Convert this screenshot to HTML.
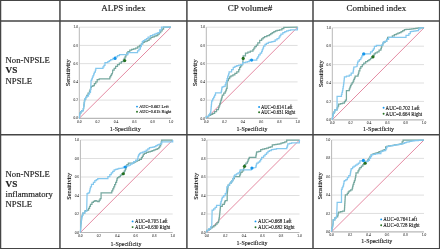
<!DOCTYPE html>
<html><head><meta charset="utf-8"><style>
html,body{margin:0;padding:0;background:#fff;width:440px;height:249px;overflow:hidden}
svg{display:block;will-change:transform}
text{font-family:"Liberation Serif",serif;fill:#222}
.hd{font-size:9px;stroke:#222;stroke-width:0.18px}
.rl{font-size:9.2px;stroke:#222;stroke-width:0.18px}
.b{font-weight:bold}
.tk{font-size:3.5px;fill:#333;stroke:#333;stroke-width:0.05px}
.at{font-size:6.8px;fill:#111;stroke:#111;stroke-width:0.12px}
.at2{font-size:6.8px;fill:#111;stroke:#111;stroke-width:0.12px}
.lg{fill:#111;stroke:#111;stroke-width:0.12px}
</style></head><body>
<svg width="440" height="249" viewBox="0 0 440 249">
<line x1="79.3" y1="100.08" x2="171" y2="100.08" stroke="#dfdfdf" stroke-width="1"/>
<line x1="79.3" y1="81.86" x2="171" y2="81.86" stroke="#dfdfdf" stroke-width="1"/>
<line x1="79.3" y1="63.64" x2="171" y2="63.64" stroke="#dfdfdf" stroke-width="1"/>
<line x1="79.3" y1="45.42" x2="171" y2="45.42" stroke="#dfdfdf" stroke-width="1"/>
<line x1="79.3" y1="27.2" x2="171" y2="27.2" stroke="#dfdfdf" stroke-width="1"/>
<line x1="79.3" y1="27.2" x2="79.3" y2="118.3" stroke="#b8b8b8" stroke-width="1"/>
<line x1="79.3" y1="118.3" x2="171" y2="118.3" stroke="#b8b8b8" stroke-width="1.2"/>
<line x1="79.3" y1="118.3" x2="171" y2="27.2" stroke="#e48aa2" stroke-width="1"/>
<polyline points="79.3,118.3 79.85,114.47 79.85,113.02 80.81,113.02 80.81,111.56 81.78,111.56 81.78,110.56 83.33,110.56 83.33,108.64 83.61,108.64 83.61,106.73 83.88,106.73 83.88,104.82 84.16,104.82 84.16,102.9 84.44,102.9 84.44,100.99 84.71,100.99 84.71,99.17 85.67,99.17 85.67,97.35 86.64,97.35 86.64,95.25 88.06,95.25 88.06,93.16 89.48,93.16 89.48,91.21 90.12,91.21 90.12,89.27 90.76,89.27 90.76,87.33 91.4,87.33 91.4,86.41 92.87,86.41 92.87,85.5 94.34,85.5 94.34,83.68 95.76,83.68 95.76,81.86 97.18,81.86 97.18,79.67 99.2,79.67 99.2,78.76 100.12,78.76 109.84,78.76 109.84,76.85 110.75,76.85 110.75,75.39 111.53,75.39 111.53,73.93 112.31,73.93 112.68,72.02 112.68,70.2 114.15,70.2 114.15,68.38 115.61,68.38 115.61,66.46 117.49,66.46 117.49,64.55 119.37,64.55 119.37,63.09 121.34,63.09 121.34,61.64 123.32,61.64 123.32,60.03 124.17,60.03 124.17,58.42 125.03,58.42 125.03,56.81 125.88,56.81 125.88,54.89 126.89,54.89 126.89,52.98 127.9,52.98 127.9,51.52 129.78,51.52 129.78,50.07 131.66,50.07 131.66,49.43 133.62,49.43 133.62,48.79 135.57,48.79 135.57,48.15 137.53,48.15 137.53,46.79 139.46,46.79 139.46,45.42 141.38,45.42 141.38,43.87 142.85,43.87 142.85,42.32 144.32,42.32 144.32,41.68 145.9,41.68 145.9,41.05 147.49,41.05 147.49,40.41 149.08,40.41 149.08,38.95 150.87,38.95 150.87,37.49 152.66,37.49 152.66,36.86 154.37,36.86 154.37,36.22 156.08,36.22 156.08,35.58 157.8,35.58 157.8,34.12 159.26,34.12 159.26,32.67 160.73,32.67 160.73,30.84 162.15,30.84 162.15,29.02 163.57,29.02 163.57,27.2 165.5,27.2 171,27.2" fill="none" stroke="#76a89f" stroke-width="1.25"/>
<polyline points="79.3,118.3 79.85,114.47 79.85,113.02 80.81,113.02 80.81,111.56 81.78,111.56 81.78,110.56 83.33,110.56 83.33,108.64 83.61,108.64 83.61,106.73 83.88,106.73 83.88,104.82 84.16,104.82 84.16,102.9 84.44,102.9 84.44,100.99 84.71,100.99 84.71,99.17 85.67,99.17 85.67,97.35 86.64,97.35 86.64,96.07 88.47,96.07 88.47,94.2 89.48,94.2 89.48,92.34 90.49,92.34 91.04,81.86 91.04,80.31 91.73,80.31 91.73,78.76 92.41,78.76 92.41,77.15 93.05,77.15 93.05,75.54 93.7,75.54 93.7,73.93 94.34,73.93 94.34,72.02 95.35,72.02 95.35,70.2 95.81,70.2 95.81,68.38 96.26,68.38 102.96,68.38 102.96,66.92 103.97,66.92 103.97,65.46 104.98,65.46 104.98,62.64 107.82,62.64 107.82,61.68 109.29,61.68 109.29,60.72 110.75,60.72 110.75,59.59 112.91,59.59 112.91,58.45 115.06,58.45 115.06,56.81 117.54,56.81 117.54,55.67 119.46,55.67 119.46,54.53 121.39,54.53 127.9,54.53 127.9,52.71 128.82,52.71 137.53,52.71 137.53,50.89 138.95,50.89 138.95,49.06 140.37,49.06 140.37,46.7 141.34,46.7 141.34,44.33 142.3,44.33 142.3,41.5 143.31,41.5 143.31,40.5 144.9,40.5 144.9,39.5 146.49,39.5 146.49,38.5 148.07,38.5 148.07,37.04 150.37,37.04 150.37,35.58 152.66,35.58 152.66,34.85 154.43,34.85 154.43,34.12 156.19,34.12 156.19,33.39 157.96,33.39 157.96,32.67 159.72,32.67 159.72,29.93 161.55,29.93 161.55,27.2 162.56,27.2 171,27.2" fill="none" stroke="#84c8ee" stroke-width="1.25"/>
<circle cx="115.06" cy="58.45" r="1.6" fill="#1596ec"/>
<circle cx="124.69" cy="60.54" r="1.6" fill="#23701f"/>
<text x="75.8" y="119.4" class="tk" text-anchor="middle">0.0</text>
<text x="79.3" y="122.9" class="tk" text-anchor="middle">0.0</text>
<text x="75.8" y="101.18" class="tk" text-anchor="middle">0.2</text>
<text x="97.64" y="122.9" class="tk" text-anchor="middle">0.2</text>
<text x="75.8" y="82.96" class="tk" text-anchor="middle">0.4</text>
<text x="115.98" y="122.9" class="tk" text-anchor="middle">0.4</text>
<text x="75.8" y="64.74" class="tk" text-anchor="middle">0.6</text>
<text x="134.32" y="122.9" class="tk" text-anchor="middle">0.6</text>
<text x="75.8" y="46.52" class="tk" text-anchor="middle">0.8</text>
<text x="152.66" y="122.9" class="tk" text-anchor="middle">0.8</text>
<text x="75.8" y="28.3" class="tk" text-anchor="middle">1.0</text>
<text x="171" y="122.9" class="tk" text-anchor="middle">1.0</text>
<text x="109.65" y="130.8" class="at" textLength="31" lengthAdjust="spacingAndGlyphs">1-Specificity</text>
<text transform="translate(69.9,72.75) rotate(-90)" y="0" class="at2" x="-13.5" textLength="27" lengthAdjust="spacingAndGlyphs">Sensitivity</text>
<circle cx="137" cy="106.6" r="0.95" fill="#1596ec"/>
<text x="139.2" y="108.18" class="lg" style="font-size:4.79px" textLength="29.4" lengthAdjust="spacingAndGlyphs">AUC=0.662 Left</text>
<circle cx="137" cy="111.8" r="0.95" fill="#23701f"/>
<text x="139.2" y="113.38" class="lg" style="font-size:4.79px" textLength="32" lengthAdjust="spacingAndGlyphs">AUC=0.615 Right</text>
<line x1="206.3" y1="100.16" x2="297.6" y2="100.16" stroke="#dfdfdf" stroke-width="1"/>
<line x1="206.3" y1="81.92" x2="297.6" y2="81.92" stroke="#dfdfdf" stroke-width="1"/>
<line x1="206.3" y1="63.68" x2="297.6" y2="63.68" stroke="#dfdfdf" stroke-width="1"/>
<line x1="206.3" y1="45.44" x2="297.6" y2="45.44" stroke="#dfdfdf" stroke-width="1"/>
<line x1="206.3" y1="27.2" x2="297.6" y2="27.2" stroke="#dfdfdf" stroke-width="1"/>
<line x1="206.3" y1="27.2" x2="206.3" y2="118.4" stroke="#b8b8b8" stroke-width="1"/>
<line x1="206.3" y1="118.4" x2="297.6" y2="118.4" stroke="#b8b8b8" stroke-width="1.2"/>
<line x1="206.3" y1="118.4" x2="297.6" y2="27.2" stroke="#e48aa2" stroke-width="1"/>
<polyline points="206.3,118.4 206.3,116.9 208.49,116.9 208.49,115.39 210.68,115.39 210.68,114.43 212.65,114.43 212.65,113.48 214.61,113.48 214.61,111.56 216.53,111.56 216.53,109.64 218.44,109.64 218.44,107.73 219.08,107.73 219.08,105.81 219.72,105.81 219.72,103.9 220.36,103.9 220.36,102.19 220.84,102.19 220.84,100.48 221.32,100.48 221.32,98.77 221.8,98.77 221.8,97.06 222.28,97.06 222.28,95.14 223.74,95.14 223.74,93.23 225.2,93.23 225.2,91.62 225.84,91.62 225.84,90.01 226.48,90.01 226.48,88.4 227.12,88.4 227.12,82.56 227.12,80.64 228.39,80.64 228.39,78.73 229.67,78.73 229.67,76.81 230.95,76.81 230.95,75.86 232.91,75.86 232.91,74.9 234.88,74.9 234.88,73.44 236.79,73.44 236.79,71.98 238.71,71.98 238.71,69.7 239.67,69.7 239.67,67.42 240.63,67.42 240.63,65.96 241.63,65.96 241.63,64.5 242.64,64.5 243.19,58.39 243.19,55.84 245.47,55.84 245.47,53.01 247.84,53.01 247.84,52.01 250.31,52.01 250.31,51 252.95,51 252.95,49.54 253.91,49.54 253.91,48.08 254.87,48.08 254.87,46.63 256.33,46.63 256.33,45.17 257.79,45.17 257.79,42.8 259.71,42.8 259.71,40.42 261.63,40.42 261.63,38.96 263.09,38.96 263.09,37.51 264.55,37.51 264.55,36.55 266.92,36.55 266.92,35.59 269.3,35.59 269.3,34.63 270.76,34.63 270.76,33.68 272.22,33.68 272.22,32.7 273.86,32.7 273.86,31.73 275.51,31.73 275.51,30.76 277.15,30.76 277.15,30.3 279.52,30.3 279.52,29.84 281.9,29.84 281.9,28.66 283.81,28.66 283.81,27.47 285.73,27.47 297.6,27.2" fill="none" stroke="#76a89f" stroke-width="1.25"/>
<polyline points="206.3,118.4 206.3,116.39 208.77,116.39 208.77,114.93 209.72,114.93 209.72,113.48 210.68,113.48 210.68,111.71 210.85,111.71 210.85,109.95 211.02,109.95 211.02,108.19 211.18,108.19 211.18,106.42 211.35,106.42 211.35,104.66 211.52,104.66 211.52,102.9 211.69,102.9 211.69,100.94 212.65,100.94 212.65,98.97 213.6,98.97 213.6,97.1 214.56,97.1 214.56,95.24 215.52,95.24 215.52,92.86 216.53,92.86 221.27,92.86 221.27,91.04 221.61,91.04 221.61,89.22 221.94,89.22 221.94,87.39 222.28,87.39 222.28,86.94 223.74,86.94 223.74,86.48 225.2,86.48 225.2,84.52 225.88,84.52 225.88,82.56 226.57,82.56 226.57,80.64 227.09,80.64 227.09,78.73 227.6,78.73 227.6,76.81 228.12,76.81 228.12,75.35 228.62,75.35 228.62,73.89 229.12,73.89 229.12,71.98 231.59,71.98 231.59,69.7 233.23,69.7 233.23,67.42 234.88,67.42 234.88,66.46 236.79,66.46 236.79,65.5 238.71,65.5 238.71,65 240.67,65 240.67,64.5 242.64,64.5 242.64,62.59 245.47,62.59 245.47,62.08 247.38,62.08 247.38,61.58 249.3,61.58 249.3,60.12 251.58,60.12 256.79,60.12 256.79,58.48 257.75,58.48 257.75,56.84 258.71,56.84 258.71,54.92 260.17,54.92 260.17,53.01 261.63,53.01 261.63,51.37 262.27,51.37 262.27,49.73 262.91,49.73 262.91,48.08 263.55,48.08 263.55,46.22 264.96,46.22 264.96,44.35 266.38,44.35 266.38,43.34 268.29,43.34 268.29,42.34 270.21,42.34 270.21,42 271.85,42 271.85,41.67 273.5,41.67 273.5,41.34 275.14,41.34 275.14,39.92 277.06,39.92 277.06,38.51 278.97,38.51 278.97,37.05 279.93,37.05 279.93,35.59 280.89,35.59 280.89,34.13 282.86,34.13 282.86,32.67 284.82,32.67 284.82,31.71 286.64,31.71 286.64,30.76 288.47,30.76 288.47,30.3 290.48,30.3 290.48,29.84 292.49,29.84 297.33,29.84 297.6,27.2" fill="none" stroke="#84c8ee" stroke-width="1.25"/>
<circle cx="251.58" cy="60.12" r="1.6" fill="#1596ec"/>
<circle cx="243.19" cy="58.39" r="1.6" fill="#23701f"/>
<text x="202.8" y="119.5" class="tk" text-anchor="middle">0.0</text>
<text x="206.3" y="123" class="tk" text-anchor="middle">0.0</text>
<text x="202.8" y="101.26" class="tk" text-anchor="middle">0.2</text>
<text x="224.56" y="123" class="tk" text-anchor="middle">0.2</text>
<text x="202.8" y="83.02" class="tk" text-anchor="middle">0.4</text>
<text x="242.82" y="123" class="tk" text-anchor="middle">0.4</text>
<text x="202.8" y="64.78" class="tk" text-anchor="middle">0.6</text>
<text x="261.08" y="123" class="tk" text-anchor="middle">0.6</text>
<text x="202.8" y="46.54" class="tk" text-anchor="middle">0.8</text>
<text x="279.34" y="123" class="tk" text-anchor="middle">0.8</text>
<text x="202.8" y="28.3" class="tk" text-anchor="middle">1.0</text>
<text x="297.6" y="123" class="tk" text-anchor="middle">1.0</text>
<text x="236.45" y="130.7" class="at" textLength="31" lengthAdjust="spacingAndGlyphs">1-Specificity</text>
<text transform="translate(196.9,72.8) rotate(-90)" y="0" class="at2" x="-13.5" textLength="27" lengthAdjust="spacingAndGlyphs">Sensitivity</text>
<circle cx="259.1" cy="107" r="0.95" fill="#1596ec"/>
<text x="260.9" y="108.69" class="lg" style="font-size:5.12px" textLength="31.7" lengthAdjust="spacingAndGlyphs">AUC=0.614 Left</text>
<circle cx="259.1" cy="112.3" r="0.95" fill="#23701f"/>
<text x="260.9" y="113.99" class="lg" style="font-size:5.12px" textLength="34.3" lengthAdjust="spacingAndGlyphs">AUC=0.631 Right</text>
<line x1="332.3" y1="101.4" x2="424" y2="101.4" stroke="#dfdfdf" stroke-width="1"/>
<line x1="332.3" y1="83" x2="424" y2="83" stroke="#dfdfdf" stroke-width="1"/>
<line x1="332.3" y1="64.6" x2="424" y2="64.6" stroke="#dfdfdf" stroke-width="1"/>
<line x1="332.3" y1="46.2" x2="424" y2="46.2" stroke="#dfdfdf" stroke-width="1"/>
<line x1="332.3" y1="27.8" x2="424" y2="27.8" stroke="#dfdfdf" stroke-width="1"/>
<line x1="332.3" y1="27.8" x2="332.3" y2="119.8" stroke="#b8b8b8" stroke-width="1"/>
<line x1="332.3" y1="119.8" x2="424" y2="119.8" stroke="#b8b8b8" stroke-width="1.2"/>
<line x1="332.3" y1="119.8" x2="424" y2="27.8" stroke="#e48aa2" stroke-width="1"/>
<polyline points="332.3,119.8 332.3,118.11 332.61,118.11 332.61,116.43 332.91,116.43 332.91,114.74 333.22,114.74 333.22,113.31 334,113.31 334,111.89 334.78,111.89 334.78,109.96 337.07,109.96 337.07,107.98 337.85,107.98 337.85,106 338.63,106 338.63,104.16 340.55,104.16 340.55,103.65 342.48,103.65 342.48,103.15 344.4,103.15 344.4,101.68 345.41,101.68 345.41,100.2 346.42,100.2 346.42,92.48 346.42,90.54 349.26,90.54 349.26,88.89 349.91,88.89 349.91,87.23 350.55,87.23 350.55,85.58 351.19,85.58 351.19,84.15 352.15,84.15 352.15,82.72 353.12,82.72 353.12,81.1 353.79,81.1 353.79,79.47 354.46,79.47 354.46,77.85 355.13,77.85 355.13,76.01 357.98,76.01 357.98,74.54 358.43,74.54 358.43,73.06 358.89,73.06 358.89,70.76 359.86,70.76 359.86,68.46 360.82,68.46 360.82,66.53 362.29,66.53 362.29,64.6 363.75,64.6 363.75,63.13 365.68,63.13 365.68,61.66 367.6,61.66 367.6,60.69 369.07,60.69 369.07,59.72 370.54,59.72 370.54,58.25 371.78,58.25 371.78,56.78 373.01,56.78 373.01,55.35 374.16,55.35 374.16,53.93 375.31,53.93 375.31,52.92 377.19,52.92 377.19,51.9 379.07,51.9 379.07,50.06 380.9,50.06 380.9,48.59 381.36,48.59 381.36,47.12 381.82,47.12 381.82,45.14 382.78,45.14 382.78,43.16 383.74,43.16 383.74,42.24 385.21,42.24 385.21,41.32 386.68,41.32 386.68,39.35 387.64,39.35 387.64,37.37 388.6,37.37 392.36,37.37 392.36,35.94 394.34,35.94 394.34,34.52 396.31,34.52 396.31,33.87 397.9,33.87 397.9,33.23 399.49,33.23 399.49,32.58 401.07,32.58 401.07,31.6 402.73,31.6 402.73,30.62 404.38,30.62 404.38,29.64 406.03,29.64 406.03,29.46 407.93,29.46 407.93,29.27 409.84,29.27 409.84,29.09 411.75,29.09 411.75,28.9 413.66,28.9 413.66,28.72 415.56,28.72 415.56,28.41 417.18,28.41 417.18,28.11 418.8,28.11 418.8,27.8 420.42,27.8 424,27.8" fill="none" stroke="#76a89f" stroke-width="1.25"/>
<polyline points="332.3,119.8 332.3,118.11 332.61,118.11 332.61,116.43 332.91,116.43 332.91,114.74 333.22,114.74 333.22,113.31 334,113.31 334,111.89 334.78,111.89 334.78,109.96 337.07,109.96 337.07,97.26 337.07,96.34 338.26,96.34 341.47,96.34 341.47,94.41 341.97,94.41 341.97,92.48 342.48,92.48 342.48,90.54 342.81,90.54 342.81,88.61 343.15,88.61 343.15,86.68 343.49,86.68 343.49,84.73 343.72,84.73 343.72,82.77 343.95,82.77 343.95,80.81 344.18,80.81 344.18,78.86 344.4,78.86 344.4,76.93 346.42,76.93 346.42,76.01 349.26,76.01 349.26,75 351.19,75 351.19,73.06 353.12,73.06 353.12,71.1 353.45,71.1 353.45,69.14 353.79,69.14 353.79,67.18 354.12,67.18 357.06,66.53 357.06,64.55 357.52,64.55 357.52,62.58 357.98,62.58 357.98,61.15 359.4,61.15 359.4,59.72 360.82,59.72 360.82,57.79 361.8,57.79 361.8,55.86 362.77,55.86 362.77,53.93 363.75,53.93 370.54,53.93 370.54,51.9 372.37,51.9 372.37,50.43 373.38,50.43 373.38,48.96 374.39,48.96 374.39,46.48 376.32,46.48 376.32,45.28 379.07,45.28 382.74,45.19 382.74,43.72 383.24,43.72 383.24,42.24 383.74,42.24 383.74,41.78 385.21,41.78 385.21,41.32 386.68,41.32 386.68,39.39 388.6,39.39 388.6,37.37 389.52,37.37 406.03,37.37 406.03,35.44 408.87,35.44 408.87,33.5 410.29,33.5 410.29,31.57 411.71,31.57 411.71,31.32 413.41,31.32 413.41,31.07 415.11,31.07 415.11,30.81 416.8,30.81 416.8,30.56 418.5,30.56 418.5,29.18 419.97,29.18 419.97,27.8 421.43,27.8 424,27.8" fill="none" stroke="#84c8ee" stroke-width="1.25"/>
<circle cx="363.75" cy="53.93" r="1.6" fill="#1596ec"/>
<circle cx="373.01" cy="56.78" r="1.6" fill="#23701f"/>
<text x="328.8" y="120.9" class="tk" text-anchor="middle">0.0</text>
<text x="332.3" y="124.4" class="tk" text-anchor="middle">0.0</text>
<text x="328.8" y="102.5" class="tk" text-anchor="middle">0.2</text>
<text x="350.64" y="124.4" class="tk" text-anchor="middle">0.2</text>
<text x="328.8" y="84.1" class="tk" text-anchor="middle">0.4</text>
<text x="368.98" y="124.4" class="tk" text-anchor="middle">0.4</text>
<text x="328.8" y="65.7" class="tk" text-anchor="middle">0.6</text>
<text x="387.32" y="124.4" class="tk" text-anchor="middle">0.6</text>
<text x="328.8" y="47.3" class="tk" text-anchor="middle">0.8</text>
<text x="405.66" y="124.4" class="tk" text-anchor="middle">0.8</text>
<text x="328.8" y="28.9" class="tk" text-anchor="middle">1.0</text>
<text x="424" y="124.4" class="tk" text-anchor="middle">1.0</text>
<text x="363.05" y="131.1" class="at" textLength="31" lengthAdjust="spacingAndGlyphs">1-Specificity</text>
<text transform="translate(322.9,73.8) rotate(-90)" y="0" class="at2" x="-13.5" textLength="27" lengthAdjust="spacingAndGlyphs">Sensitivity</text>
<circle cx="383.6" cy="107.7" r="0.95" fill="#1596ec"/>
<text x="385.6" y="109.5" class="lg" style="font-size:5.45px" textLength="34.1" lengthAdjust="spacingAndGlyphs">AUC=0.702 Left</text>
<circle cx="383.6" cy="113.8" r="0.95" fill="#23701f"/>
<text x="385.6" y="115.6" class="lg" style="font-size:5.45px" textLength="36.6" lengthAdjust="spacingAndGlyphs">AUC=0.664 Right</text>
<line x1="80.4" y1="214" x2="172.7" y2="214" stroke="#dfdfdf" stroke-width="1"/>
<line x1="80.4" y1="195.5" x2="172.7" y2="195.5" stroke="#dfdfdf" stroke-width="1"/>
<line x1="80.4" y1="177" x2="172.7" y2="177" stroke="#dfdfdf" stroke-width="1"/>
<line x1="80.4" y1="158.5" x2="172.7" y2="158.5" stroke="#dfdfdf" stroke-width="1"/>
<line x1="80.4" y1="140" x2="172.7" y2="140" stroke="#dfdfdf" stroke-width="1"/>
<line x1="80.4" y1="140" x2="80.4" y2="232.5" stroke="#b8b8b8" stroke-width="1"/>
<line x1="80.4" y1="232.5" x2="172.7" y2="232.5" stroke="#b8b8b8" stroke-width="1.2"/>
<line x1="80.4" y1="232.5" x2="172.7" y2="140" stroke="#e48aa2" stroke-width="1"/>
<polyline points="80.4,232.5 80.86,225.56 80.86,223.64 81.09,223.64 81.09,221.72 81.32,221.72 81.32,219.8 81.55,219.8 81.55,217.88 81.78,217.88 81.78,216.45 82.29,216.45 82.29,215.02 82.8,215.02 82.8,213.07 84.74,213.07 84.74,211.13 85.66,211.13 85.66,210.67 87.14,210.67 87.14,210.21 88.61,210.21 88.61,208.26 89.54,208.26 89.54,206.32 90.46,206.32 90.46,204.38 91.94,204.38 91.94,202.44 93.41,202.44 93.41,201.47 94.84,201.47 94.84,200.5 96.28,200.5 96.28,201 97.75,201 97.75,201.51 99.23,201.51 99.23,200.08 100.15,200.08 100.15,198.65 101.08,198.65 101.08,192.82 111.78,192.82 111.78,190.88 112.75,190.88 112.75,188.93 113.72,188.93 113.72,186.99 114.64,186.99 114.64,184.68 115.61,184.68 115.61,182.37 116.58,182.37 116.58,180.47 117.04,180.47 117.04,178.57 117.5,178.57 117.5,177.6 118.94,177.6 118.94,176.63 120.37,176.63 120.37,175.2 121.84,175.2 121.84,173.76 123.32,173.76 123.32,172.33 124.29,172.33 124.29,170.89 125.26,170.89 125.26,169.26 125.81,169.26 125.81,167.63 126.37,167.63 126.37,165.99 126.92,165.99 126.92,164.56 128.35,164.56 128.35,163.12 129.78,163.12 133.75,163.12 133.75,162.15 135.64,162.15 135.64,161.18 137.53,161.18 137.53,160.26 139.47,160.26 139.47,159.33 141.41,159.33 141.41,157.7 142.36,157.7 142.36,156.06 143.32,156.06 143.32,154.43 144.27,154.43 144.27,153.46 146.26,153.46 146.26,152.49 148.24,152.49 148.24,151.87 150.15,151.87 150.15,151.25 152.06,151.25 152.06,150.64 153.96,150.64 153.96,149.99 155.59,149.99 155.59,149.34 157.22,149.34 157.22,148.69 158.85,148.69 158.85,147.26 159.78,147.26 159.78,145.83 160.7,145.83 160.7,143.88 161.21,143.88 161.21,141.94 161.72,141.94 161.72,140 162.64,140 172.7,140" fill="none" stroke="#76a89f" stroke-width="1.25"/>
<polyline points="80.4,232.5 80.86,225.56 80.86,223.64 81.09,223.64 81.09,221.72 81.32,221.72 81.32,219.8 81.55,219.8 81.55,217.88 81.78,217.88 81.78,216.45 82.29,216.45 82.29,215.02 82.8,215.02 82.8,213.07 84.74,213.07 84.74,211.13 85.66,211.13 86.68,211.13 87.05,194.67 87.05,193.74 88.15,193.74 88.15,192.82 89.54,192.82 89.54,190.88 90,190.88 90,188.93 90.46,188.93 90.46,186.99 91.48,186.99 91.48,184.4 93.41,184.4 93.41,182.46 94.84,182.46 94.84,180.51 96.28,180.51 96.28,179.54 97.75,179.54 97.75,178.57 99.23,178.57 107.91,178.57 107.91,176.63 109.84,176.63 109.84,174.73 111.27,174.73 111.27,172.84 112.7,172.84 112.7,171.36 114.14,171.36 114.14,169.88 115.57,169.88 115.57,169.35 117.17,169.35 117.17,168.83 118.77,168.83 118.77,168.31 120.37,168.31 123.32,167.94 123.32,167.01 125.26,167.01 125.26,166.5 127.06,166.5 127.06,165.99 128.86,165.99 128.86,165.04 130.49,165.04 130.49,164.08 132.12,164.08 132.12,163.12 133.75,163.12 133.75,161.64 135.64,161.64 135.64,160.16 137.53,160.16 137.53,158.27 138.04,158.27 138.04,156.37 138.55,156.37 138.55,154.94 139.47,154.94 139.47,153.5 140.39,153.5 140.39,152.83 142.33,152.83 142.33,152.15 144.27,152.15 144.27,151.47 146.21,151.47 146.21,150.21 147.81,150.21 147.81,148.94 149.41,148.94 149.41,147.68 151.01,147.68 151.01,147.34 152.64,147.34 152.64,147 154.27,147 154.27,146.66 155.9,146.66 155.9,145.74 157.38,145.74 157.38,144.81 158.85,144.81 158.85,144.3 160.29,144.3 160.29,143.79 161.72,143.79 161.72,141.94 162.64,141.94 172.7,141.94 172.7,140" fill="none" stroke="#84c8ee" stroke-width="1.25"/>
<circle cx="125.26" cy="167.01" r="1.6" fill="#1596ec"/>
<circle cx="123.32" cy="173.76" r="1.6" fill="#23701f"/>
<text x="76.9" y="233.6" class="tk" text-anchor="middle">0.0</text>
<text x="80.4" y="237.1" class="tk" text-anchor="middle">0.0</text>
<text x="76.9" y="215.1" class="tk" text-anchor="middle">0.2</text>
<text x="98.86" y="237.1" class="tk" text-anchor="middle">0.2</text>
<text x="76.9" y="196.6" class="tk" text-anchor="middle">0.4</text>
<text x="117.32" y="237.1" class="tk" text-anchor="middle">0.4</text>
<text x="76.9" y="178.1" class="tk" text-anchor="middle">0.6</text>
<text x="135.78" y="237.1" class="tk" text-anchor="middle">0.6</text>
<text x="76.9" y="159.6" class="tk" text-anchor="middle">0.8</text>
<text x="154.24" y="237.1" class="tk" text-anchor="middle">0.8</text>
<text x="76.9" y="141.1" class="tk" text-anchor="middle">1.0</text>
<text x="172.7" y="237.1" class="tk" text-anchor="middle">1.0</text>
<text x="110.45" y="245.7" class="at" textLength="31" lengthAdjust="spacingAndGlyphs">1-Specificity</text>
<text transform="translate(71,186.25) rotate(-90)" y="0" class="at2" x="-13.5" textLength="27" lengthAdjust="spacingAndGlyphs">Sensitivity</text>
<circle cx="132.6" cy="221.4" r="0.95" fill="#1596ec"/>
<text x="135" y="223.16" class="lg" style="font-size:5.33px" textLength="32.7" lengthAdjust="spacingAndGlyphs">AUC=0.705 Left</text>
<circle cx="132.6" cy="227.1" r="0.95" fill="#23701f"/>
<text x="135" y="228.86" class="lg" style="font-size:5.33px" textLength="35.2" lengthAdjust="spacingAndGlyphs">AUC=0.630 Right</text>
<line x1="206.9" y1="214" x2="299.5" y2="214" stroke="#dfdfdf" stroke-width="1"/>
<line x1="206.9" y1="195.5" x2="299.5" y2="195.5" stroke="#dfdfdf" stroke-width="1"/>
<line x1="206.9" y1="177" x2="299.5" y2="177" stroke="#dfdfdf" stroke-width="1"/>
<line x1="206.9" y1="158.5" x2="299.5" y2="158.5" stroke="#dfdfdf" stroke-width="1"/>
<line x1="206.9" y1="140" x2="299.5" y2="140" stroke="#dfdfdf" stroke-width="1"/>
<line x1="206.9" y1="140" x2="206.9" y2="232.5" stroke="#b8b8b8" stroke-width="1"/>
<line x1="206.9" y1="232.5" x2="299.5" y2="232.5" stroke="#b8b8b8" stroke-width="1.2"/>
<line x1="206.9" y1="232.5" x2="299.5" y2="140" stroke="#e48aa2" stroke-width="1"/>
<polyline points="206.9,232.5 206.9,230.37 208.84,230.37 208.84,229.17 210.53,229.17 210.53,227.97 212.22,227.97 212.22,226.76 213.91,226.76 213.91,225.56 215.6,225.56 215.6,224.13 217.04,224.13 217.04,222.69 218.47,222.69 218.47,221.09 218.78,221.09 218.78,219.49 219.09,219.49 219.09,217.88 219.4,217.88 219.4,215.94 219.6,215.94 219.6,214 219.81,214 219.81,212.06 220.01,212.06 220.01,210.12 220.22,210.12 220.22,208.17 220.42,208.17 220.42,206.32 222.27,206.32 222.27,204.38 224.31,204.38 224.31,202.95 224.77,202.95 224.77,201.51 225.23,201.51 225.23,200.5 227.18,200.5 227.18,194.67 227.18,192.75 227.41,192.75 227.41,190.83 227.64,190.83 227.64,188.91 227.87,188.91 227.87,186.99 228.11,186.99 228.11,185.19 229.54,185.19 229.54,183.38 230.98,183.38 230.98,181.95 231.95,181.95 231.95,180.51 232.92,180.51 232.92,178.57 234.4,178.57 234.4,176.63 235.88,176.63 239.68,176.63 239.68,175.2 240.19,175.2 240.19,173.76 240.7,173.76 240.7,172.33 242.13,172.33 242.13,170.89 243.57,170.89 243.57,168.63 244.03,168.63 244.03,166.36 244.5,166.36 244.5,164.74 245.93,164.74 245.93,163.12 247.37,163.12 247.37,161.52 248.05,161.52 248.05,159.92 248.72,159.92 248.72,158.31 249.4,158.31 249.4,157.3 251.26,157.3 255.89,157.3 255.89,155.69 256.19,155.69 256.19,154.09 256.5,154.09 256.5,152.49 256.81,152.49 256.81,151.98 258.76,151.98 258.76,151.47 260.7,151.47 260.7,149.62 262.55,149.62 262.55,149.16 264.54,149.16 264.54,148.69 266.53,148.69 266.53,148.05 268.45,148.05 268.45,147.4 270.36,147.4 270.36,146.75 272.28,146.75 272.28,144.81 274.22,144.81 274.22,144.58 275.91,144.58 275.91,144.35 277.6,144.35 277.6,144.12 279.29,144.12 279.29,143.88 280.98,143.88 280.98,143.24 282.89,143.24 282.89,142.59 284.81,142.59 284.81,141.94 286.72,141.94 286.72,140 288.67,140 299.5,140" fill="none" stroke="#76a89f" stroke-width="1.25"/>
<polyline points="206.9,232.5 206.9,230.37 208.84,230.37 208.84,228.52 210.79,228.52 210.79,226.58 211.72,226.58 212.09,212.15 212.09,210.21 213.66,210.21 213.66,208.77 215.1,208.77 215.1,207.34 216.53,207.34 216.53,205.31 217.46,205.31 220.42,205.31 220.42,203.41 220.93,203.41 220.93,201.51 221.44,201.51 221.44,200.08 221.85,200.08 221.85,198.65 222.27,198.65 222.27,197.17 223.75,197.17 223.75,195.69 225.23,195.69 225.23,193.74 226.16,193.74 226.81,188.93 226.81,186.99 228.11,186.99 228.11,185.19 229.54,185.19 229.54,183.38 230.98,183.38 230.98,181.95 231.95,181.95 231.95,180.51 232.92,180.51 232.92,178.91 233.57,178.91 233.57,177.31 234.22,177.31 234.22,175.7 234.87,175.7 234.87,174.75 236.47,174.75 236.47,173.79 238.08,173.79 238.08,172.84 239.68,172.84 239.68,171.36 240.19,171.36 240.19,169.88 240.7,169.88 251.26,169.88 251.9,168.03 255.89,167.56 255.89,165.85 256.35,165.85 256.35,164.14 256.81,164.14 256.81,163.17 258.25,163.17 258.25,162.2 259.68,162.2 259.68,160.77 260.65,160.77 260.65,159.33 261.63,159.33 261.63,157.3 263.57,157.3 263.57,155.86 265.05,155.86 265.05,154.43 266.53,154.43 266.53,152.95 267.97,152.95 267.97,151.47 269.41,151.47 269.41,150.55 271.3,150.55 271.3,149.62 273.2,149.62 273.2,149.31 274.84,149.31 274.84,149 276.47,149 276.47,148.69 278.11,148.69 286.72,148.69 286.72,147.26 287.23,147.26 287.23,145.83 287.74,145.83 287.74,143.88 289.59,143.88 289.59,143.38 291.54,143.38 291.54,142.87 293.48,142.87 299.31,142.87 299.5,140" fill="none" stroke="#84c8ee" stroke-width="1.25"/>
<circle cx="251.9" cy="168.03" r="1.6" fill="#1596ec"/>
<circle cx="244.5" cy="166.36" r="1.6" fill="#23701f"/>
<text x="203.4" y="233.6" class="tk" text-anchor="middle">0.0</text>
<text x="206.9" y="237.1" class="tk" text-anchor="middle">0.0</text>
<text x="203.4" y="215.1" class="tk" text-anchor="middle">0.2</text>
<text x="225.42" y="237.1" class="tk" text-anchor="middle">0.2</text>
<text x="203.4" y="196.6" class="tk" text-anchor="middle">0.4</text>
<text x="243.94" y="237.1" class="tk" text-anchor="middle">0.4</text>
<text x="203.4" y="178.1" class="tk" text-anchor="middle">0.6</text>
<text x="262.46" y="237.1" class="tk" text-anchor="middle">0.6</text>
<text x="203.4" y="159.6" class="tk" text-anchor="middle">0.8</text>
<text x="280.98" y="237.1" class="tk" text-anchor="middle">0.8</text>
<text x="203.4" y="141.1" class="tk" text-anchor="middle">1.0</text>
<text x="299.5" y="237.1" class="tk" text-anchor="middle">1.0</text>
<text x="236.5" y="245.4" class="at" textLength="31" lengthAdjust="spacingAndGlyphs">1-Specificity</text>
<text transform="translate(197.5,186.25) rotate(-90)" y="0" class="at2" x="-13.5" textLength="27" lengthAdjust="spacingAndGlyphs">Sensitivity</text>
<circle cx="255.5" cy="221.4" r="0.95" fill="#1596ec"/>
<text x="258.1" y="223.2" class="lg" style="font-size:5.45px" textLength="33.5" lengthAdjust="spacingAndGlyphs">AUC=0.668 Left</text>
<circle cx="255.5" cy="227.3" r="0.95" fill="#23701f"/>
<text x="258.1" y="229.1" class="lg" style="font-size:5.45px" textLength="36.6" lengthAdjust="spacingAndGlyphs">AUC=0.682 Right</text>
<line x1="331.6" y1="213.44" x2="424" y2="213.44" stroke="#dfdfdf" stroke-width="1"/>
<line x1="331.6" y1="195.08" x2="424" y2="195.08" stroke="#dfdfdf" stroke-width="1"/>
<line x1="331.6" y1="176.72" x2="424" y2="176.72" stroke="#dfdfdf" stroke-width="1"/>
<line x1="331.6" y1="158.36" x2="424" y2="158.36" stroke="#dfdfdf" stroke-width="1"/>
<line x1="331.6" y1="140" x2="424" y2="140" stroke="#dfdfdf" stroke-width="1"/>
<line x1="331.6" y1="140" x2="331.6" y2="231.8" stroke="#b8b8b8" stroke-width="1"/>
<line x1="331.6" y1="231.8" x2="424" y2="231.8" stroke="#b8b8b8" stroke-width="1.2"/>
<line x1="331.6" y1="231.8" x2="424" y2="140" stroke="#e48aa2" stroke-width="1"/>
<polyline points="331.6,231.8 331.6,229.64 332.06,229.64 332.06,227.49 332.52,227.49 333.17,222.71 333.17,219.87 334.83,219.87 334.83,217.94 336.31,217.94 336.31,216.93 337.7,216.93 337.7,215 338.16,215 338.16,213.07 338.62,213.07 338.62,212.15 340.66,212.15 340.66,211.65 342.55,211.65 342.55,211.15 344.44,211.15 344.44,209.23 344.56,209.23 344.56,207.31 344.67,207.31 344.67,205.4 344.79,205.4 344.79,203.48 344.91,203.48 344.91,201.56 345.02,201.56 345.02,199.65 345.14,199.65 345.14,197.73 345.25,197.73 345.25,195.81 345.37,195.81 345.37,194.8 347.31,194.8 347.31,193.34 348.28,193.34 348.28,191.87 349.25,191.87 349.25,190.9 350.73,190.9 350.73,189.94 352.21,189.94 352.21,188.01 352.67,188.01 352.67,186.08 353.13,186.08 353.13,184.25 353.78,184.25 353.78,182.41 354.42,182.41 354.42,180.58 355.07,180.58 355.07,178.95 355.38,178.95 355.38,177.33 355.69,177.33 355.69,175.71 355.99,175.71 355.99,172.86 358.03,172.86 358.03,170.94 358.95,170.94 358.95,169.01 359.87,169.01 359.87,167.59 361.35,167.59 361.35,166.16 362.83,166.16 362.83,164.69 363.99,164.69 363.99,163.23 365.14,163.23 365.14,161.3 367.64,161.3 367.64,159.83 368.79,159.83 368.79,158.36 369.95,158.36 369.95,156.48 371.19,156.48 371.19,154.6 372.44,154.6 372.44,154.09 373.87,154.09 373.87,153.59 375.31,153.59 375.31,153.13 377.15,153.13 377.15,152.67 379,152.67 379,151.66 380.85,151.66 380.85,151.02 382.45,151.02 382.45,150.37 384.05,150.37 384.05,149.73 385.65,149.73 385.65,146.88 386.67,146.88 386.67,146.38 388.56,146.38 388.56,145.88 390.46,145.88 390.46,145.57 392.4,145.57 392.4,145.26 394.34,145.26 394.34,144.96 396.28,144.96 396.28,144.62 398.22,144.62 398.22,144.28 400.16,144.28 400.16,143.95 402.1,143.95 402.1,141.97 403.07,141.97 403.07,140 404.04,140 424,140" fill="none" stroke="#76a89f" stroke-width="1.25"/>
<polyline points="331.6,231.8 331.6,229.64 332.06,229.64 332.06,227.49 332.52,227.49 333.17,222.71 333.17,219.87 334.83,219.87 334.83,217.94 336.31,217.94 336.68,215.92 337.14,203.43 337.14,202.42 338.62,202.42 341.49,202.42 341.49,190.86 341.49,189.27 342.16,189.27 342.16,187.67 342.84,187.67 342.84,186.08 343.52,186.08 343.52,183.79 343.98,183.79 343.98,181.49 344.44,181.49 344.44,180.53 345.88,180.53 345.88,179.57 347.31,179.57 347.31,177.64 348.74,177.64 348.74,175.71 350.17,175.71 350.17,173.81 350.51,173.81 350.51,171.92 350.85,171.92 350.85,170.02 351.19,170.02 351.19,168.55 352.62,168.55 352.62,167.08 354.05,167.08 354.05,166.12 355.53,166.12 355.53,165.15 357.01,165.15 357.01,164.19 358.44,164.19 358.44,163.23 359.87,163.23 359.87,160.93 362.18,160.93 363.39,160.38 363.39,161.3 365,161.3 365,162.22 366.62,162.22 366.62,161.3 368.05,161.3 368.05,160.38 369.48,160.38 369.48,158.45 370.5,158.45 370.5,156.52 371.52,156.52 371.52,154.6 373.36,154.6 373.36,154.26 375.24,154.26 375.24,153.92 377.12,153.92 377.12,153.59 379,153.59 380.85,153.59 380.85,151.66 381.77,151.66 381.77,151.15 383.71,151.15 383.71,150.65 385.65,150.65 385.65,148.77 386.62,148.77 386.62,146.88 387.59,146.88 387.59,146.38 389.53,146.38 389.53,145.88 391.48,145.88 391.48,145.57 393.42,145.57 393.42,145.26 395.36,145.26 395.36,144.96 397.3,144.96 397.3,144.62 399.24,144.62 399.24,144.28 401.18,144.28 401.18,143.95 403.12,143.95 403.12,143.34 404.72,143.34 404.72,142.72 406.32,142.72 406.32,142.11 407.92,142.11 407.92,141.77 409.52,141.77 409.52,141.44 411.13,141.44 411.13,141.1 412.73,141.1 412.73,140.92 414.61,140.92 414.61,140.73 416.48,140.73 416.48,140.55 418.36,140.55 418.36,140.37 420.24,140.37 420.24,140.18 422.12,140.18 422.12,140 424,140" fill="none" stroke="#84c8ee" stroke-width="1.25"/>
<circle cx="363.39" cy="160.38" r="1.6" fill="#1596ec"/>
<circle cx="365.14" cy="163.23" r="1.6" fill="#23701f"/>
<text x="328.1" y="232.9" class="tk" text-anchor="middle">0.0</text>
<text x="331.6" y="236.4" class="tk" text-anchor="middle">0.0</text>
<text x="328.1" y="214.54" class="tk" text-anchor="middle">0.2</text>
<text x="350.08" y="236.4" class="tk" text-anchor="middle">0.2</text>
<text x="328.1" y="196.18" class="tk" text-anchor="middle">0.4</text>
<text x="368.56" y="236.4" class="tk" text-anchor="middle">0.4</text>
<text x="328.1" y="177.82" class="tk" text-anchor="middle">0.6</text>
<text x="387.04" y="236.4" class="tk" text-anchor="middle">0.6</text>
<text x="328.1" y="159.46" class="tk" text-anchor="middle">0.8</text>
<text x="405.52" y="236.4" class="tk" text-anchor="middle">0.8</text>
<text x="328.1" y="141.1" class="tk" text-anchor="middle">1.0</text>
<text x="424" y="236.4" class="tk" text-anchor="middle">1.0</text>
<text x="361.3" y="243.3" class="at" textLength="31" lengthAdjust="spacingAndGlyphs">1-Specificity</text>
<text transform="translate(322.2,185.9) rotate(-90)" y="0" class="at2" x="-13.5" textLength="27" lengthAdjust="spacingAndGlyphs">Sensitivity</text>
<circle cx="381.2" cy="219.4" r="0.95" fill="#1596ec"/>
<text x="383.3" y="221.2" class="lg" style="font-size:5.45px" textLength="33.8" lengthAdjust="spacingAndGlyphs">AUC=0.764 Left</text>
<circle cx="381.2" cy="225.3" r="0.95" fill="#23701f"/>
<text x="383.3" y="227.1" class="lg" style="font-size:5.45px" textLength="36.4" lengthAdjust="spacingAndGlyphs">AUC=0.728 Right</text>
<line x1="0" y1="0.5" x2="440" y2="0.5" stroke="#454545" stroke-width="1.1"/>
<line x1="0" y1="248.5" x2="440" y2="248.5" stroke="#454545" stroke-width="1.2"/>
<line x1="0.6" y1="0" x2="0.6" y2="249" stroke="#454545" stroke-width="1.3"/>
<line x1="439.5" y1="0" x2="439.5" y2="249" stroke="#454545" stroke-width="1.2"/>
<line x1="0" y1="20.9" x2="440" y2="20.9" stroke="#454545" stroke-width="1.5"/>
<line x1="0" y1="134.75" x2="440" y2="134.75" stroke="#454545" stroke-width="1.5"/>
<line x1="59.95" y1="0" x2="59.95" y2="249" stroke="#454545" stroke-width="1.5"/>
<line x1="186.9" y1="0" x2="186.9" y2="249" stroke="#454545" stroke-width="1.5"/>
<line x1="313" y1="0" x2="313" y2="249" stroke="#454545" stroke-width="1.5"/>
<text x="123.5" y="10.8" class="hd" text-anchor="middle">ALPS index</text>
<text x="250" y="10.8" class="hd" text-anchor="middle">CP volume#</text>
<text x="376.3" y="10.8" class="hd" text-anchor="middle">Combined index</text>
<text x="5.6" y="63.2" class="rl" textLength="44.3" lengthAdjust="spacingAndGlyphs">Non-NPSLE</text>
<text x="5.6" y="73.3" class="rl b">VS</text>
<text x="5.6" y="83.6" class="rl" textLength="26.5" lengthAdjust="spacingAndGlyphs">NPSLE</text>
<text x="5.6" y="176.8" class="rl" textLength="44.3" lengthAdjust="spacingAndGlyphs">Non-NPSLE</text>
<text x="5.6" y="187.1" class="rl b">VS</text>
<text x="5.6" y="197.3" class="rl" textLength="47.2" lengthAdjust="spacingAndGlyphs">inflammatory</text>
<text x="5.6" y="207.3" class="rl" textLength="26.5" lengthAdjust="spacingAndGlyphs">NPSLE</text>
</svg>
</body></html>
